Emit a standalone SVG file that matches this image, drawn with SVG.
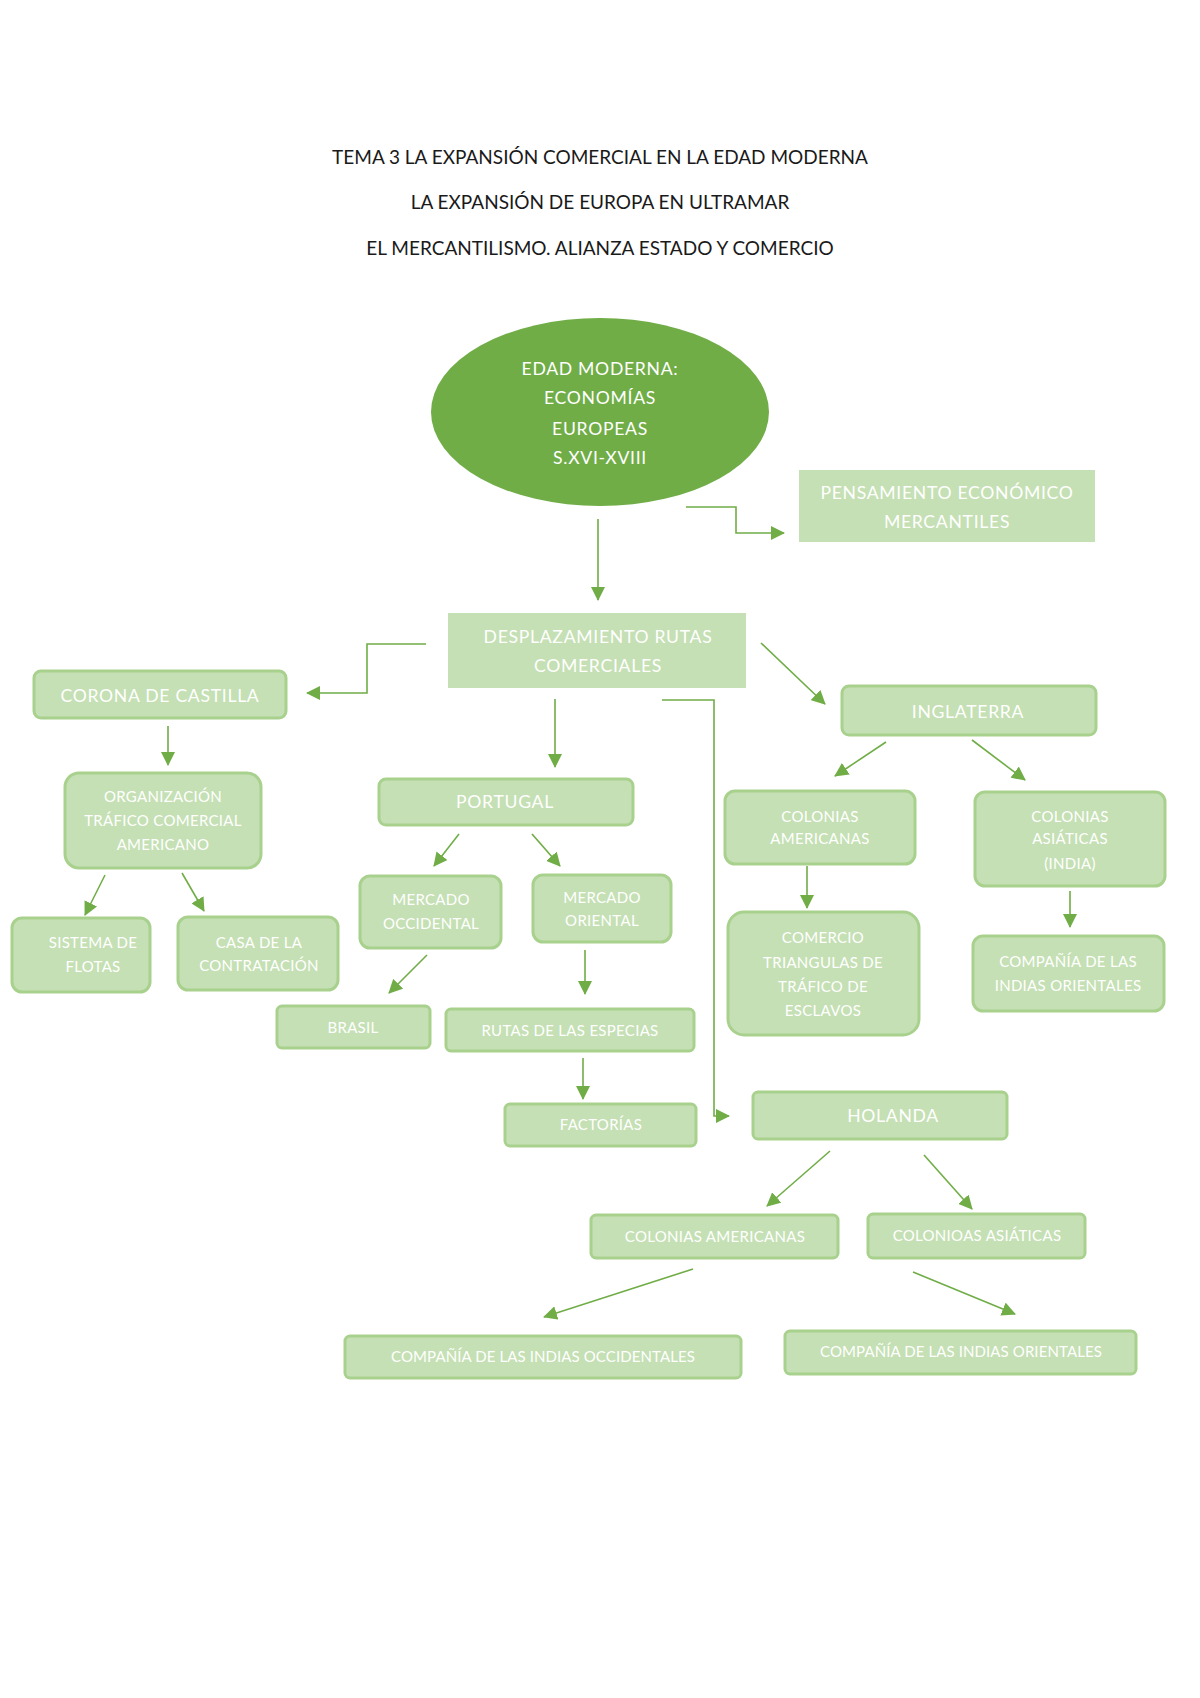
<svg xmlns="http://www.w3.org/2000/svg" width="1200" height="1698" viewBox="0 0 1200 1698">
<defs>
<marker id="ah" markerUnits="userSpaceOnUse" markerWidth="14" markerHeight="14" refX="13" refY="7" orient="auto">
<path d="M0,0 L14,7 L0,14 z" fill="#70AD47"/>
</marker>
<style>
.title{font-family:Lato,"Open Sans",sans-serif;font-size:19px;fill:#1a1a1a;text-anchor:middle}
.flat{fill:#C5E0B4}
.box{fill:#C5E0B4;stroke:#A9D18E;stroke-width:3}
.t{font-family:Lato,"Open Sans",sans-serif;fill:#ffffff;text-anchor:middle}
.big{font-size:17.6px;letter-spacing:0.7px}
.sm{font-size:15px;letter-spacing:0.3px}
.xs{font-size:15px;letter-spacing:0.1px}
.c{fill:none;stroke:#70AD47;stroke-width:1.6;marker-end:url(#ah)}
</style>
</defs>
<rect width="1200" height="1698" fill="#ffffff"/>
<g id="titles">
<text class="title" x="600" y="164">TEMA 3 LA EXPANSIÓN COMERCIAL EN LA EDAD MODERNA</text>
<text class="title" x="600" y="209">LA EXPANSIÓN DE EUROPA EN ULTRAMAR</text>
<text class="title" x="600" y="255">EL MERCANTILISMO. ALIANZA ESTADO Y COMERCIO</text>
</g>
<g id="connectors">
<polyline class="c" points="686,507 736,507 736,533 784,533"/>
<line class="c" x1="598" y1="519" x2="598" y2="600"/>
<polyline class="c" points="426,644 367,644 367,693 307,693"/>
<line class="c" x1="168" y1="726" x2="168" y2="765"/>
<line class="c" x1="105" y1="875" x2="85" y2="915"/>
<line class="c" x1="182" y1="873" x2="204" y2="911"/>
<line class="c" x1="555" y1="699" x2="555" y2="767"/>
<line class="c" x1="459" y1="834" x2="434" y2="866"/>
<line class="c" x1="532" y1="834" x2="560" y2="866"/>
<line class="c" x1="427" y1="955" x2="389" y2="993"/>
<line class="c" x1="585" y1="950" x2="585" y2="994"/>
<line class="c" x1="583" y1="1058" x2="583" y2="1099"/>
<polyline class="c" points="662,700 714,700 714,1116 729,1116"/>
<line class="c" x1="761" y1="643" x2="825" y2="704"/>
<line class="c" x1="886" y1="742" x2="835" y2="776"/>
<line class="c" x1="972" y1="740" x2="1025" y2="780"/>
<line class="c" x1="807" y1="866" x2="807" y2="908"/>
<line class="c" x1="1070" y1="891" x2="1070" y2="927"/>
<line class="c" x1="830" y1="1151" x2="767" y2="1206"/>
<line class="c" x1="924" y1="1155" x2="972" y2="1209"/>
<line class="c" x1="693" y1="1269" x2="544" y2="1317"/>
<line class="c" x1="913" y1="1272" x2="1015" y2="1314"/>
</g>
<g id="n-edad">
<ellipse cx="600" cy="412" rx="169" ry="94" fill="#70AD47"/>
<text class="t big" x="600" y="375">EDAD MODERNA:</text>
<text class="t big" x="600" y="404">ECONOMÍAS</text>
<text class="t big" x="600" y="435">EUROPEAS</text>
<text class="t big" x="600" y="464">S.XVI-XVIII</text>
</g>
<g id="n-pensamiento">
<rect class="flat" x="799" y="470" width="296" height="72"/>
<text class="t big" x="947" y="499">PENSAMIENTO ECONÓMICO</text>
<text class="t big" x="947" y="528">MERCANTILES</text>
</g>
<g id="n-desplazamiento">
<rect class="flat" x="448" y="613" width="298" height="75"/>
<text class="t big" x="598" y="643">DESPLAZAMIENTO RUTAS</text>
<text class="t big" x="598" y="672">COMERCIALES</text>
</g>
<g id="n-corona">
<rect class="box" x="34" y="671" width="252" height="47" rx="7"/>
<text class="t big" x="160" y="702">CORONA DE CASTILLA</text>
</g>
<g id="n-organizacion">
<rect class="box" x="65" y="773" width="196" height="95" rx="14"/>
<text class="t sm" x="163" y="802">ORGANIZACIÓN</text>
<text class="t sm" x="163" y="826">TRÁFICO COMERCIAL</text>
<text class="t sm" x="163" y="850">AMERICANO</text>
</g>
<g id="n-sistema">
<rect class="box" x="12" y="918" width="138" height="74" rx="10"/>
<text class="t sm" x="93" y="948">SISTEMA DE</text>
<text class="t sm" x="93" y="972">FLOTAS</text>
</g>
<g id="n-casa">
<rect class="box" x="178" y="917" width="160" height="73" rx="10"/>
<text class="t sm" x="259" y="948">CASA DE LA</text>
<text class="t sm" x="259" y="971">CONTRATACIÓN</text>
</g>
<g id="n-portugal">
<rect class="box" x="379" y="779" width="254" height="46" rx="7"/>
<text class="t big" x="505" y="808">PORTUGAL</text>
</g>
<g id="n-occidental">
<rect class="box" x="360" y="876" width="141" height="72" rx="10"/>
<text class="t sm" x="431" y="905">MERCADO</text>
<text class="t sm" x="431" y="929">OCCIDENTAL</text>
</g>
<g id="n-oriental">
<rect class="box" x="533" y="875" width="138" height="67" rx="10"/>
<text class="t sm" x="602" y="903">MERCADO</text>
<text class="t sm" x="602" y="926">ORIENTAL</text>
</g>
<g id="n-brasil">
<rect class="box" x="277" y="1006" width="153" height="42" rx="5"/>
<text class="t sm" x="353" y="1033">BRASIL</text>
</g>
<g id="n-rutas">
<rect class="box" x="446" y="1009" width="248" height="42" rx="5"/>
<text class="t sm" x="570" y="1036">RUTAS DE LAS ESPECIAS</text>
</g>
<g id="n-factorias">
<rect class="box" x="505" y="1104" width="191" height="42" rx="5"/>
<text class="t sm" x="601" y="1130">FACTORÍAS</text>
</g>
<g id="n-inglaterra">
<rect class="box" x="842" y="686" width="254" height="49" rx="7"/>
<text class="t big" x="968" y="718">INGLATERRA</text>
</g>
<g id="n-colam-ing">
<rect class="box" x="725" y="791" width="190" height="73" rx="10"/>
<text class="t sm" x="820" y="822">COLONIAS</text>
<text class="t sm" x="820" y="844">AMERICANAS</text>
</g>
<g id="n-colas-ing">
<rect class="box" x="975" y="792" width="190" height="94" rx="10"/>
<text class="t sm" x="1070" y="822">COLONIAS</text>
<text class="t sm" x="1070" y="844">ASIÁTICAS</text>
<text class="t sm" x="1070" y="869">(INDIA)</text>
</g>
<g id="n-comercio">
<rect class="box" x="728" y="912" width="191" height="123" rx="16"/>
<text class="t sm" x="823" y="943">COMERCIO</text>
<text class="t sm" x="823" y="968">TRIANGULAS DE</text>
<text class="t sm" x="823" y="992">TRÁFICO DE</text>
<text class="t sm" x="823" y="1016">ESCLAVOS</text>
</g>
<g id="n-compania-ing">
<rect class="box" x="973" y="936" width="191" height="75" rx="10"/>
<text class="t sm" x="1068" y="967">COMPAÑÍA DE LAS</text>
<text class="t sm" x="1068" y="991">INDIAS ORIENTALES</text>
</g>
<g id="n-holanda">
<rect class="box" x="753" y="1092" width="254" height="47" rx="5"/>
<text class="t big" x="893" y="1122">HOLANDA</text>
</g>
<g id="n-colam-hol">
<rect class="box" x="591" y="1215" width="247" height="43" rx="5"/>
<text class="t sm" x="715" y="1242">COLONIAS AMERICANAS</text>
</g>
<g id="n-colas-hol">
<rect class="box" x="868" y="1214" width="217" height="44" rx="5"/>
<text class="t sm" x="977" y="1241">COLONIOAS ASIÁTICAS</text>
</g>
<g id="n-compania-occ">
<rect class="box" x="345" y="1336" width="396" height="42" rx="5"/>
<text class="t xs" x="543" y="1362">COMPAÑÍA DE LAS INDIAS OCCIDENTALES</text>
</g>
<g id="n-compania-hol">
<rect class="box" x="785" y="1331" width="351" height="43" rx="5"/>
<text class="t xs" x="961" y="1357">COMPAÑÍA DE LAS INDIAS ORIENTALES</text>
</g>
</svg>
